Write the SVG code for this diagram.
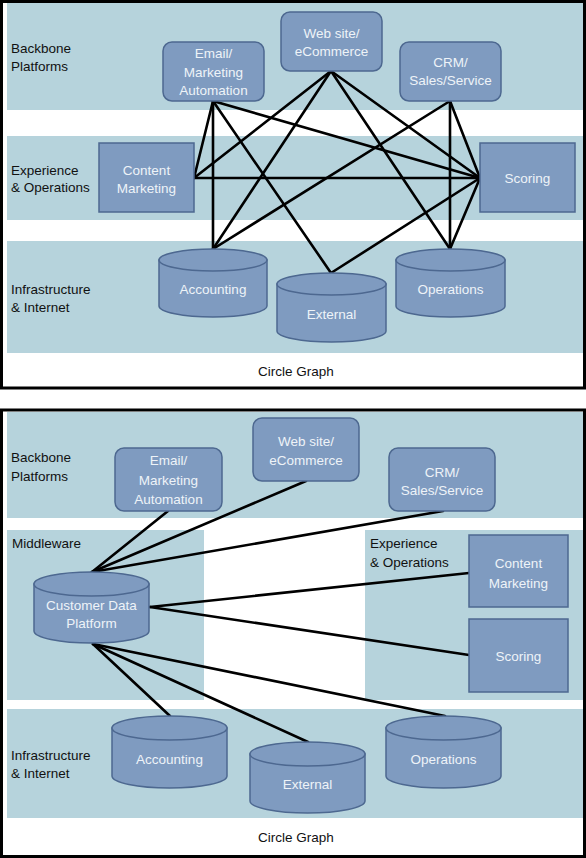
<svg xmlns="http://www.w3.org/2000/svg" width="586" height="858" viewBox="0 0 586 858">
<style>
.bg{fill:#ffffff}
.frame{fill:none;stroke:#000;stroke-width:3}
.band{fill:#b6d3dc}
.node{fill:#7f9bc0;stroke:#4d6890;stroke-width:1.5}
.ntxt{font-family:"Liberation Sans",Arial,sans-serif;font-size:13.5px;fill:#eef3f8;text-anchor:middle}
.lbl{font-family:"Liberation Sans",Arial,sans-serif;font-size:13.5px;fill:#111}
.cap{font-family:"Liberation Sans",Arial,sans-serif;font-size:13.5px;fill:#111;text-anchor:middle}
.edge{stroke:#000;stroke-width:2.6;fill:none;stroke-linecap:round}
</style>
<rect class="bg" x="0" y="0" width="586" height="858"/>

<!-- ================= TOP PANEL ================= -->
<g id="top-panel">
  <g id="top-bands">
    <rect class="band" x="7" y="3" width="577" height="107"/>
    <rect class="band" x="7" y="136" width="577" height="84"/>
    <rect class="band" x="7" y="241" width="577" height="112"/>
  </g>
  <g id="top-labels">
    <text class="lbl" x="11" y="53">Backbone</text>
    <text class="lbl" x="11" y="71">Platforms</text>
    <text class="lbl" x="11" y="175">Experience</text>
    <text class="lbl" x="11" y="192">&amp; Operations</text>
    <text class="lbl" x="11" y="294">Infrastructure</text>
    <text class="lbl" x="11" y="312">&amp; Internet</text>
    <text class="cap" x="296" y="376">Circle Graph</text>
  </g>
  <g id="top-connectors">
    <!-- Email -->
    <line class="edge" x1="213" y1="101" x2="194" y2="178"/>
    <line class="edge" x1="213" y1="101" x2="213" y2="249"/>
    <line class="edge" x1="213" y1="101" x2="480" y2="178"/>
    <line class="edge" x1="213" y1="101" x2="331" y2="273"/>
    <!-- Web -->
    <line class="edge" x1="331" y1="71" x2="194" y2="178"/>
    <line class="edge" x1="331" y1="71" x2="213" y2="249"/>
    <line class="edge" x1="331" y1="71" x2="450" y2="249"/>
    <line class="edge" x1="331" y1="71" x2="480" y2="178"/>
    <!-- CRM -->
    <line class="edge" x1="450" y1="101" x2="213" y2="249"/>
    <line class="edge" x1="450" y1="101" x2="450" y2="249"/>
    <line class="edge" x1="450" y1="101" x2="480" y2="178"/>
    <!-- Content / Scoring -->
    <line class="edge" x1="194" y1="178" x2="480" y2="178"/>
    <line class="edge" x1="480" y1="178" x2="331" y2="273"/>
    <line class="edge" x1="480" y1="178" x2="450" y2="249"/>
  </g>
  <g id="t-email">
    <rect class="node" x="163" y="42" width="101" height="59" rx="9"/>
    <text class="ntxt" x="213.5" y="58">Email/</text>
    <text class="ntxt" x="213.5" y="77">Marketing</text>
    <text class="ntxt" x="213.5" y="95">Automation</text>
  </g>
  <g id="t-web">
    <rect class="node" x="281" y="12" width="101" height="59" rx="9"/>
    <text class="ntxt" x="331.5" y="38">Web site/</text>
    <text class="ntxt" x="331.5" y="56">eCommerce</text>
  </g>
  <g id="t-crm">
    <rect class="node" x="400" y="42" width="101" height="59" rx="9"/>
    <text class="ntxt" x="450.5" y="67">CRM/</text>
    <text class="ntxt" x="450.5" y="85">Sales/Service</text>
  </g>
  <g id="t-content">
    <rect class="node" x="99" y="143" width="95" height="69"/>
    <text class="ntxt" x="146.5" y="175">Content</text>
    <text class="ntxt" x="146.5" y="193">Marketing</text>
  </g>
  <g id="t-scoring">
    <rect class="node" x="480" y="143" width="95" height="69"/>
    <text class="ntxt" x="527.5" y="183">Scoring</text>
  </g>
  <g id="t-accounting">
    <path class="node" d="M159,260 V306 A54,11 0 0 0 267,306 V260 Z"/>
    <ellipse class="node" cx="213" cy="260" rx="54" ry="11"/>
    <text class="ntxt" x="213" y="294">Accounting</text>
  </g>
  <g id="t-external">
    <path class="node" d="M277,284 V331 A54.5,11 0 0 0 386,331 V284 Z"/>
    <ellipse class="node" cx="331.5" cy="284" rx="54.5" ry="11"/>
    <text class="ntxt" x="331.5" y="319">External</text>
  </g>
  <g id="t-operations">
    <path class="node" d="M396,260 V306 A54.5,11 0 0 0 505,306 V260 Z"/>
    <ellipse class="node" cx="450.5" cy="260" rx="54.5" ry="11"/>
    <text class="ntxt" x="450.5" y="294">Operations</text>
  </g>
  <rect class="frame" x="1.5" y="1.5" width="583" height="386.5"/>
</g>

<!-- ================= BOTTOM PANEL ================= -->
<g id="bottom-panel">
  <g id="bottom-bands">
    <rect class="band" x="7" y="412" width="577" height="106"/>
    <rect class="band" x="7" y="530" width="197" height="170"/>
    <rect class="band" x="365" y="530" width="219" height="170"/>
    <rect class="band" x="7" y="709" width="577" height="109"/>
  </g>
  <g id="bottom-labels">
    <text class="lbl" x="11" y="462">Backbone</text>
    <text class="lbl" x="11" y="481">Platforms</text>
    <text class="lbl" x="12" y="548">Middleware</text>
    <text class="lbl" x="370" y="548">Experience</text>
    <text class="lbl" x="370" y="567">&amp; Operations</text>
    <text class="lbl" x="11" y="760">Infrastructure</text>
    <text class="lbl" x="11" y="778">&amp; Internet</text>
    <text class="cap" x="296" y="842">Circle Graph</text>
  </g>
  <g id="bottom-connectors">
    <line class="edge" x1="92" y1="572" x2="168" y2="511"/>
    <line class="edge" x1="92" y1="572" x2="306" y2="481"/>
    <line class="edge" x1="92" y1="572" x2="443" y2="511"/>
    <line class="edge" x1="150" y1="607" x2="469" y2="573"/>
    <line class="edge" x1="150" y1="607" x2="469" y2="655"/>
    <line class="edge" x1="93" y1="644" x2="170" y2="716"/>
    <line class="edge" x1="93" y1="644" x2="308" y2="742"/>
    <line class="edge" x1="93" y1="644" x2="445" y2="716"/>
  </g>
  <g id="b-email">
    <rect class="node" x="115" y="448" width="107" height="63" rx="9"/>
    <text class="ntxt" x="168.5" y="465">Email/</text>
    <text class="ntxt" x="168.5" y="485">Marketing</text>
    <text class="ntxt" x="168.5" y="504">Automation</text>
  </g>
  <g id="b-web">
    <rect class="node" x="253" y="418" width="106" height="63" rx="9"/>
    <text class="ntxt" x="306" y="446">Web site/</text>
    <text class="ntxt" x="306" y="465">eCommerce</text>
  </g>
  <g id="b-crm">
    <rect class="node" x="389" y="448" width="106" height="63" rx="9"/>
    <text class="ntxt" x="442" y="477">CRM/</text>
    <text class="ntxt" x="442" y="495">Sales/Service</text>
  </g>
  <g id="b-content">
    <rect class="node" x="469" y="535" width="99" height="72"/>
    <text class="ntxt" x="518.5" y="568">Content</text>
    <text class="ntxt" x="518.5" y="588">Marketing</text>
  </g>
  <g id="b-scoring">
    <rect class="node" x="469" y="619" width="99" height="73"/>
    <text class="ntxt" x="518.5" y="661">Scoring</text>
  </g>
  <g id="b-cdp">
    <path class="node" d="M34,584 V631 A57.5,12 0 0 0 149,631 V584 Z"/>
    <ellipse class="node" cx="91.5" cy="584" rx="57.5" ry="12"/>
    <text class="ntxt" x="91.5" y="610">Customer Data</text>
    <text class="ntxt" x="91.5" y="628">Platform</text>
  </g>
  <g id="b-accounting">
    <path class="node" d="M112,728 V776 A57.5,12 0 0 0 227,776 V728 Z"/>
    <ellipse class="node" cx="169.5" cy="728" rx="57.5" ry="12"/>
    <text class="ntxt" x="169.5" y="764">Accounting</text>
  </g>
  <g id="b-external">
    <path class="node" d="M250,754 V801 A57.5,12 0 0 0 365,801 V754 Z"/>
    <ellipse class="node" cx="307.5" cy="754" rx="57.5" ry="12"/>
    <text class="ntxt" x="307.5" y="789">External</text>
  </g>
  <g id="b-operations">
    <path class="node" d="M386,728 V776 A57.5,12 0 0 0 501,776 V728 Z"/>
    <ellipse class="node" cx="443.5" cy="728" rx="57.5" ry="12"/>
    <text class="ntxt" x="443.5" y="764">Operations</text>
  </g>
  <rect class="frame" x="1.5" y="410" width="583" height="446.5"/>
</g>
</svg>
